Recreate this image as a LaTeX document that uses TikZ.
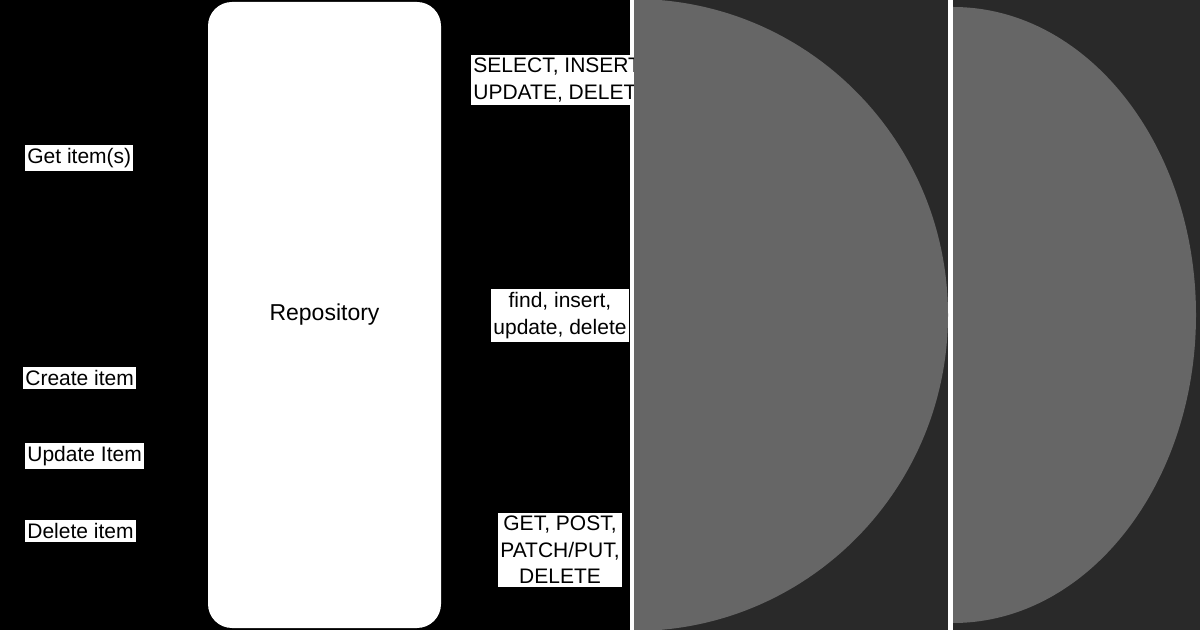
\documentclass[tikz,border=0pt]{standalone}
\usepackage{fontspec}
\setmainfont{Liberation Sans}
\definecolor{panel}{HTML}{292929}
\definecolor{disc}{HTML}{666666}

\begin{document}
\begin{tikzpicture}[x=0.5pt, y=-0.5pt]
            \tikzstyle{tag}=[fill=white,text=black,inner xsep=1pt,inner ysep=1.6pt,font=\fontsize{10.5}{13.2}\selectfont]
            \tikzstyle{store}=[fill=white,rounded corners=12pt,minimum width=116.5pt,minimum height=313pt,font=\fontsize{11.5}{14}\selectfont]
            \fill[black] (0,0) rectangle (630,630);
            \fill[white] (630,0) rectangle (1200,630);
            \useasboundingbox (0,0) rectangle (1200,630);

            \node[store] (R) at (324.5,315) {\raisebox{-1.5pt}{Repository}};

            \node[tag, anchor=west] (L_1) at (25,158)  {Get item(s)};
            \node[tag, anchor=west] (L_2) at (23,378)  {Create item};
            \node[tag, anchor=west] (L_3) at (25,456)  {Update Item};
            \node[tag, anchor=west] (L_4) at (25,531)  {Delete item};

            \node[tag, anchor=west, align=left] (T_1) at (471,80) {SELECT, INSERT\\UPDATE, DELETE};
            \node[tag, align=center] (T_2) at (560,315.5) {find, insert,\\update, delete};
            \node[tag, align=center] (T_3) at (560,550) {GET, POST,\\PATCH/PUT,\\DELETE};

            % right hand panels
            \fill[panel] (634,0) rectangle (948,630);
            \begin{scope}
                \clip (634,0) rectangle (948,630);
                \fill[disc] (634,315) ellipse [x radius=157pt, y radius=158pt];
            \end{scope}
            \fill[panel] (953,0) rectangle (1200,630);
            \begin{scope}
                \clip (953,0) rectangle (1200,630);
                \fill[disc] (953,315) ellipse [x radius=121.5pt, y radius=154pt];
            \end{scope}
        \end{tikzpicture}
\end{document}
